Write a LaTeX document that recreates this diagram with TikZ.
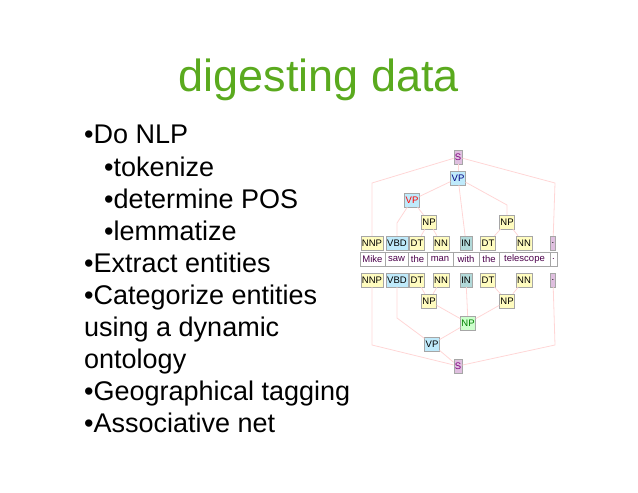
\documentclass[tikz,border=0pt]{standalone}
\usepackage{fontspec}
\setmainfont{Liberation Sans}
\begin{document}
\begin{tikzpicture}[x=1pt,y=-1pt,
  bl/.style={anchor=base west,font=\fontsize{27}{27}\selectfont,inner sep=0},
  tg/.style={draw=gray!70,fill=yellow!25,font=\fontsize{9.5}{10}\selectfont,inner sep=1pt,minimum height=14pt},
  tb/.style={tg,fill=cyan!25},
  tgr/.style={tg,fill=teal!30},
  tp/.style={tg,fill=violet!25},
  wd/.style={draw=gray!70,fill=white,font=\fontsize{9.5}{10}\selectfont,inner sep=0,minimum height=14pt,text=violet!60!black},
  ed/.style={draw=pink!90!red!50,line width=0.8pt}]
\useasboundingbox (0,0) rectangle (638,493);
\node[font=\fontsize{45}{45}\selectfont,text={rgb,255:red,90;green,170;blue,30}] (title) at (319,80) {digesting data};
\node[bl] (b1) at (84,143) {•Do NLP};
\node[bl] (b2) at (104,176) {•tokenize};
\node[bl] (b3) at (104,208) {•determine POS};
\node[bl] (b4) at (104,240) {•lemmatize};
\node[bl] (b5) at (84,272) {•Extract entities};
\node[bl] (b6) at (84,304) {•Categorize entities};
\node[bl] (b7) at (84,336) {using a dynamic};
\node[bl] (b8) at (84,368) {ontology};
\node[bl] (b9) at (84,400) {•Geographical tagging};
\node[bl] (b10) at (84,432) {•Associative net};
\coordinate (c1) at (372,183); \coordinate (c2) at (555,183);
\coordinate (c3) at (507,205); \coordinate (c4) at (397,223);
\coordinate (c5) at (372,345); \coordinate (c6) at (555,345);
\coordinate (c7) at (397,318);
% words
\node[wd,minimum width=25pt] (w1) at (372.5,259) {Mike};
\node[wd,minimum width=23pt] (w2) at (396.5,259) {saw};
\node[wd,minimum width=19pt] (w3) at (417.5,259) {the};
\node[wd,minimum width=26pt] (w4) at (440,259) {man};
\node[wd,minimum width=26pt] (w5) at (466,259) {with};
\node[wd,minimum width=20pt] (w6) at (489,259) {the};
\node[wd,minimum width=51pt] (w7) at (524.5,259) {telescope};
\node[wd,minimum width=7pt] (w8) at (553.5,259) {.};
% tags
\node[tg] (t1) at (372,243) {NNP}; \node[tb] (t2) at (397,243) {VBD}; \node[tg] (t3) at (417,243) {DT};
\node[tg] (t4) at (441,243) {NN}; \node[tgr] (t5) at (466,243) {IN}; \node[tg] (t6) at (488,243) {DT};
\node[tg] (t7) at (524,243) {NN}; \node[tp] (t8) at (553,243) {.};
\node[tg] (b1t) at (372,280) {NNP}; \node[tb] (b2t) at (397,280) {VBD}; \node[tg] (b3t) at (417,280) {DT};
\node[tg] (b4t) at (441,280) {NN}; \node[tgr] (b5t) at (466,280) {IN}; \node[tg] (b6t) at (488,280) {DT};
\node[tg] (b7t) at (524,280) {NN}; \node[tp] (b8t) at (553,280) {.};
% top tree
\node[tp,text=violet] (S1) at (458,157) {S};
\node[tb,text=blue!50!black] (VP1) at (458,178) {VP};
\node[tb,text=red] (VP2) at (412,200) {VP};
\node[tg] (NP1) at (429,222) {NP};
\node[tg] (NP2) at (507,222) {NP};
% bottom tree
\node[tg] (NP3) at (429,301) {NP};
\node[tg] (NP4) at (507,301) {NP};
\node[tg,fill=green!20,text=green!50!black] (NP5) at (468,323) {NP};
\node[tb] (VP3) at (432,344) {VP};
\node[tp,text=violet] (S2) at (458,366) {S};
\draw[ed] (S1) -- (VP1);
\draw[ed] (S1) -- (c1) -- (t1);
\draw[ed] (S1) -- (c2) -- (t8);
\draw[ed] (VP1) -- (VP2);
\draw[ed] (VP1) -- (t5);
\draw[ed] (VP1) -- (c3) -- (NP2);
\draw[ed] (VP2) -- (c4) -- (t2);
\draw[ed] (VP2) -- (NP1);
\draw[ed] (NP1) -- (t3); \draw[ed] (NP1) -- (t4);
\draw[ed] (NP2) -- (t6); \draw[ed] (NP2) -- (t7);
\draw[ed] (S2) -- (c5) -- (b1t);
\draw[ed] (S2) -- (c6) -- (b8t);
\draw[ed] (S2) -- (VP3);
\draw[ed] (VP3) -- (c7) -- (b2t);
\draw[ed] (VP3) -- (NP5);
\draw[ed] (NP5) -- (b5t);
\draw[ed] (NP5) -- (NP3);
\draw[ed] (NP5) -- (NP4);
\draw[ed] (NP3) -- (b3t); \draw[ed] (NP3) -- (b4t);
\draw[ed] (NP4) -- (b6t); \draw[ed] (NP4) -- (b7t);
\end{tikzpicture}
\end{document}
